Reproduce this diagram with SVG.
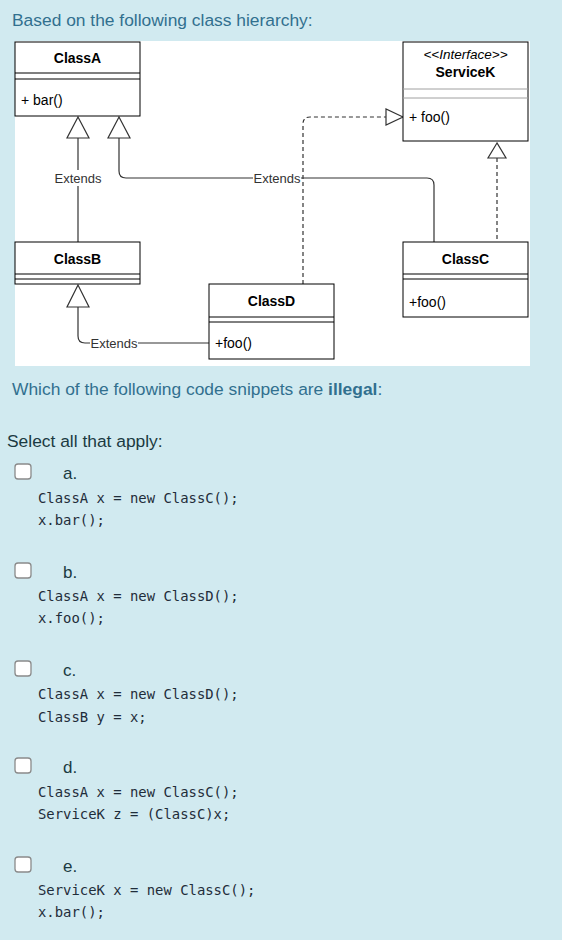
<svg xmlns="http://www.w3.org/2000/svg" width="562" height="940" viewBox="0 0 562 940">
<style>
.bg{fill:#d1eaf0}
.box{fill:#fff;stroke:#000;stroke-width:1}
.div{stroke:#000;stroke-width:1}
.divg{stroke:#a0a0a0;stroke-width:1}
.title{font-family:"Liberation Sans",Arial,sans-serif;font-size:14px;font-weight:bold;fill:#000;text-anchor:middle}
.ital{font-family:"Liberation Sans",Arial,sans-serif;font-size:13.5px;font-style:italic;fill:#000;text-anchor:middle}
.mem{font-family:"Liberation Sans",Arial,sans-serif;font-size:14px;fill:#000}
.lbl{font-family:"Liberation Sans",Arial,sans-serif;font-size:13px;fill:#333;text-anchor:middle}
.conn{fill:none;stroke:#333;stroke-width:1.2}
.dash{fill:none;stroke:#333;stroke-width:1.2;stroke-dasharray:4 3}
.tri{fill:#fff;stroke:#333;stroke-width:1.2}
.q{font-family:"Liberation Sans",Arial,sans-serif;font-size:17.4px;fill:#31708f}
.sel{font-family:"Liberation Sans",Arial,sans-serif;font-size:17.4px;fill:#1b3a42}
.opt{font-family:"Liberation Sans",Arial,sans-serif;font-size:17px;fill:#1b3a42}
.code{font-family:"DejaVu Sans Mono","Liberation Mono",monospace;font-size:13.9px;fill:#1f2d3a}
.cb{fill:#fff;stroke:#8a8a8a;stroke-width:1.3}
</style>
<rect class="bg" x="0" y="0" width="562" height="940"/>
<text class="q" x="12" y="26">Based on the following class hierarchy:</text>
<rect x="15" y="41" width="515" height="325" fill="#fff"/>

<g id="connectors">
  <path class="conn" d="M78,138 V242"/>
  <path class="conn" d="M119,138 V171 Q119,178 126,178 H427 Q434,178 434,185 V242"/>
  <path class="dash" d="M303,284 V124 Q303,117 310,117 H386"/>
  <path class="dash" d="M497,158 V242"/>
  <path class="conn" d="M78,307 V336 Q78,343 85,343 H209"/>
  <polygon class="tri" points="78,117 67,138 89,138"/>
  <polygon class="tri" points="119,117 108,138 130,138"/>
  <polygon class="tri" points="403,117 386,109 386,125"/>
  <polygon class="tri" points="497,143 488,158 506,158"/>
  <polygon class="tri" points="78,285 67,307 89,307"/>
  <rect x="53" y="170" width="50" height="16" fill="#fff"/>
  <text class="lbl" x="78" y="183">Extends</text>
  <rect x="253" y="170" width="48" height="16" fill="#fff"/>
  <text class="lbl" x="277" y="183">Extends</text>
  <rect x="90" y="335" width="48" height="16" fill="#fff"/>
  <text class="lbl" x="114" y="348">Extends</text>
</g>

<g id="ClassA">
  <rect class="box" x="15" y="42" width="125" height="74"/>
  <line class="div" x1="15" y1="73" x2="140" y2="73"/>
  <line class="div" x1="15" y1="79" x2="140" y2="79"/>
  <text class="title" x="77.5" y="63">ClassA</text>
  <text class="mem" x="21" y="105">+ bar()</text>
</g>

<g id="ServiceK">
  <rect class="box" x="403" y="42" width="125" height="99"/>
  <line class="divg" x1="403" y1="89" x2="528" y2="89"/>
  <line class="divg" x1="403" y1="98" x2="528" y2="98"/>
  <text class="ital" x="465.5" y="59">&lt;&lt;Interface&gt;&gt;</text>
  <text class="title" x="465.5" y="77">ServiceK</text>
  <text class="mem" x="409" y="122">+ foo()</text>
</g>

<g id="ClassB">
  <rect class="box" x="15" y="242" width="125" height="42"/>
  <line class="div" x1="15" y1="274" x2="140" y2="274"/>
  <line class="div" x1="15" y1="279" x2="140" y2="279"/>
  <text class="title" x="77.5" y="264">ClassB</text>
</g>

<g id="ClassC">
  <rect class="box" x="403" y="242" width="125" height="75"/>
  <line class="div" x1="403" y1="274" x2="528" y2="274"/>
  <line class="div" x1="403" y1="279" x2="528" y2="279"/>
  <text class="title" x="465.5" y="264">ClassC</text>
  <text class="mem" x="409" y="307">+foo()</text>
</g>

<g id="ClassD">
  <rect class="box" x="209" y="284" width="125" height="75"/>
  <line class="div" x1="209" y1="317" x2="334" y2="317"/>
  <line class="div" x1="209" y1="322" x2="334" y2="322"/>
  <text class="title" x="271.5" y="306">ClassD</text>
  <text class="mem" x="215" y="348">+foo()</text>
</g>

<text class="q" x="12" y="395">Which of the following code snippets are <tspan font-weight="bold">illegal</tspan>:</text>
<text class="sel" x="7" y="447">Select all that apply:</text>

<g id="optA">
  <rect class="cb" x="15" y="464" width="16" height="15" rx="3"/>
  <text class="opt" x="63" y="479">a.</text>
  <text class="code" x="38" y="503">ClassA x = new ClassC();</text>
  <text class="code" x="38" y="525">x.bar();</text>
</g>
<g id="optB">
  <rect class="cb" x="15" y="563" width="16" height="15" rx="3"/>
  <text class="opt" x="63" y="578">b.</text>
  <text class="code" x="38" y="601">ClassA x = new ClassD();</text>
  <text class="code" x="38" y="623">x.foo();</text>
</g>
<g id="optC">
  <rect class="cb" x="15" y="661" width="16" height="15" rx="3"/>
  <text class="opt" x="63" y="676">c.</text>
  <text class="code" x="38" y="699">ClassA x = new ClassD();</text>
  <text class="code" x="38" y="722">ClassB y = x;</text>
</g>
<g id="optD">
  <rect class="cb" x="15" y="758" width="16" height="15" rx="3"/>
  <text class="opt" x="63" y="773">d.</text>
  <text class="code" x="38" y="797">ClassA x = new ClassC();</text>
  <text class="code" x="38" y="819">ServiceK z = (ClassC)x;</text>
</g>
<g id="optE">
  <rect class="cb" x="15" y="857" width="16" height="15" rx="3"/>
  <text class="opt" x="63" y="872">e.</text>
  <text class="code" x="38" y="895">ServiceK x = new ClassC();</text>
  <text class="code" x="38" y="917">x.bar();</text>
</g>
</svg>
